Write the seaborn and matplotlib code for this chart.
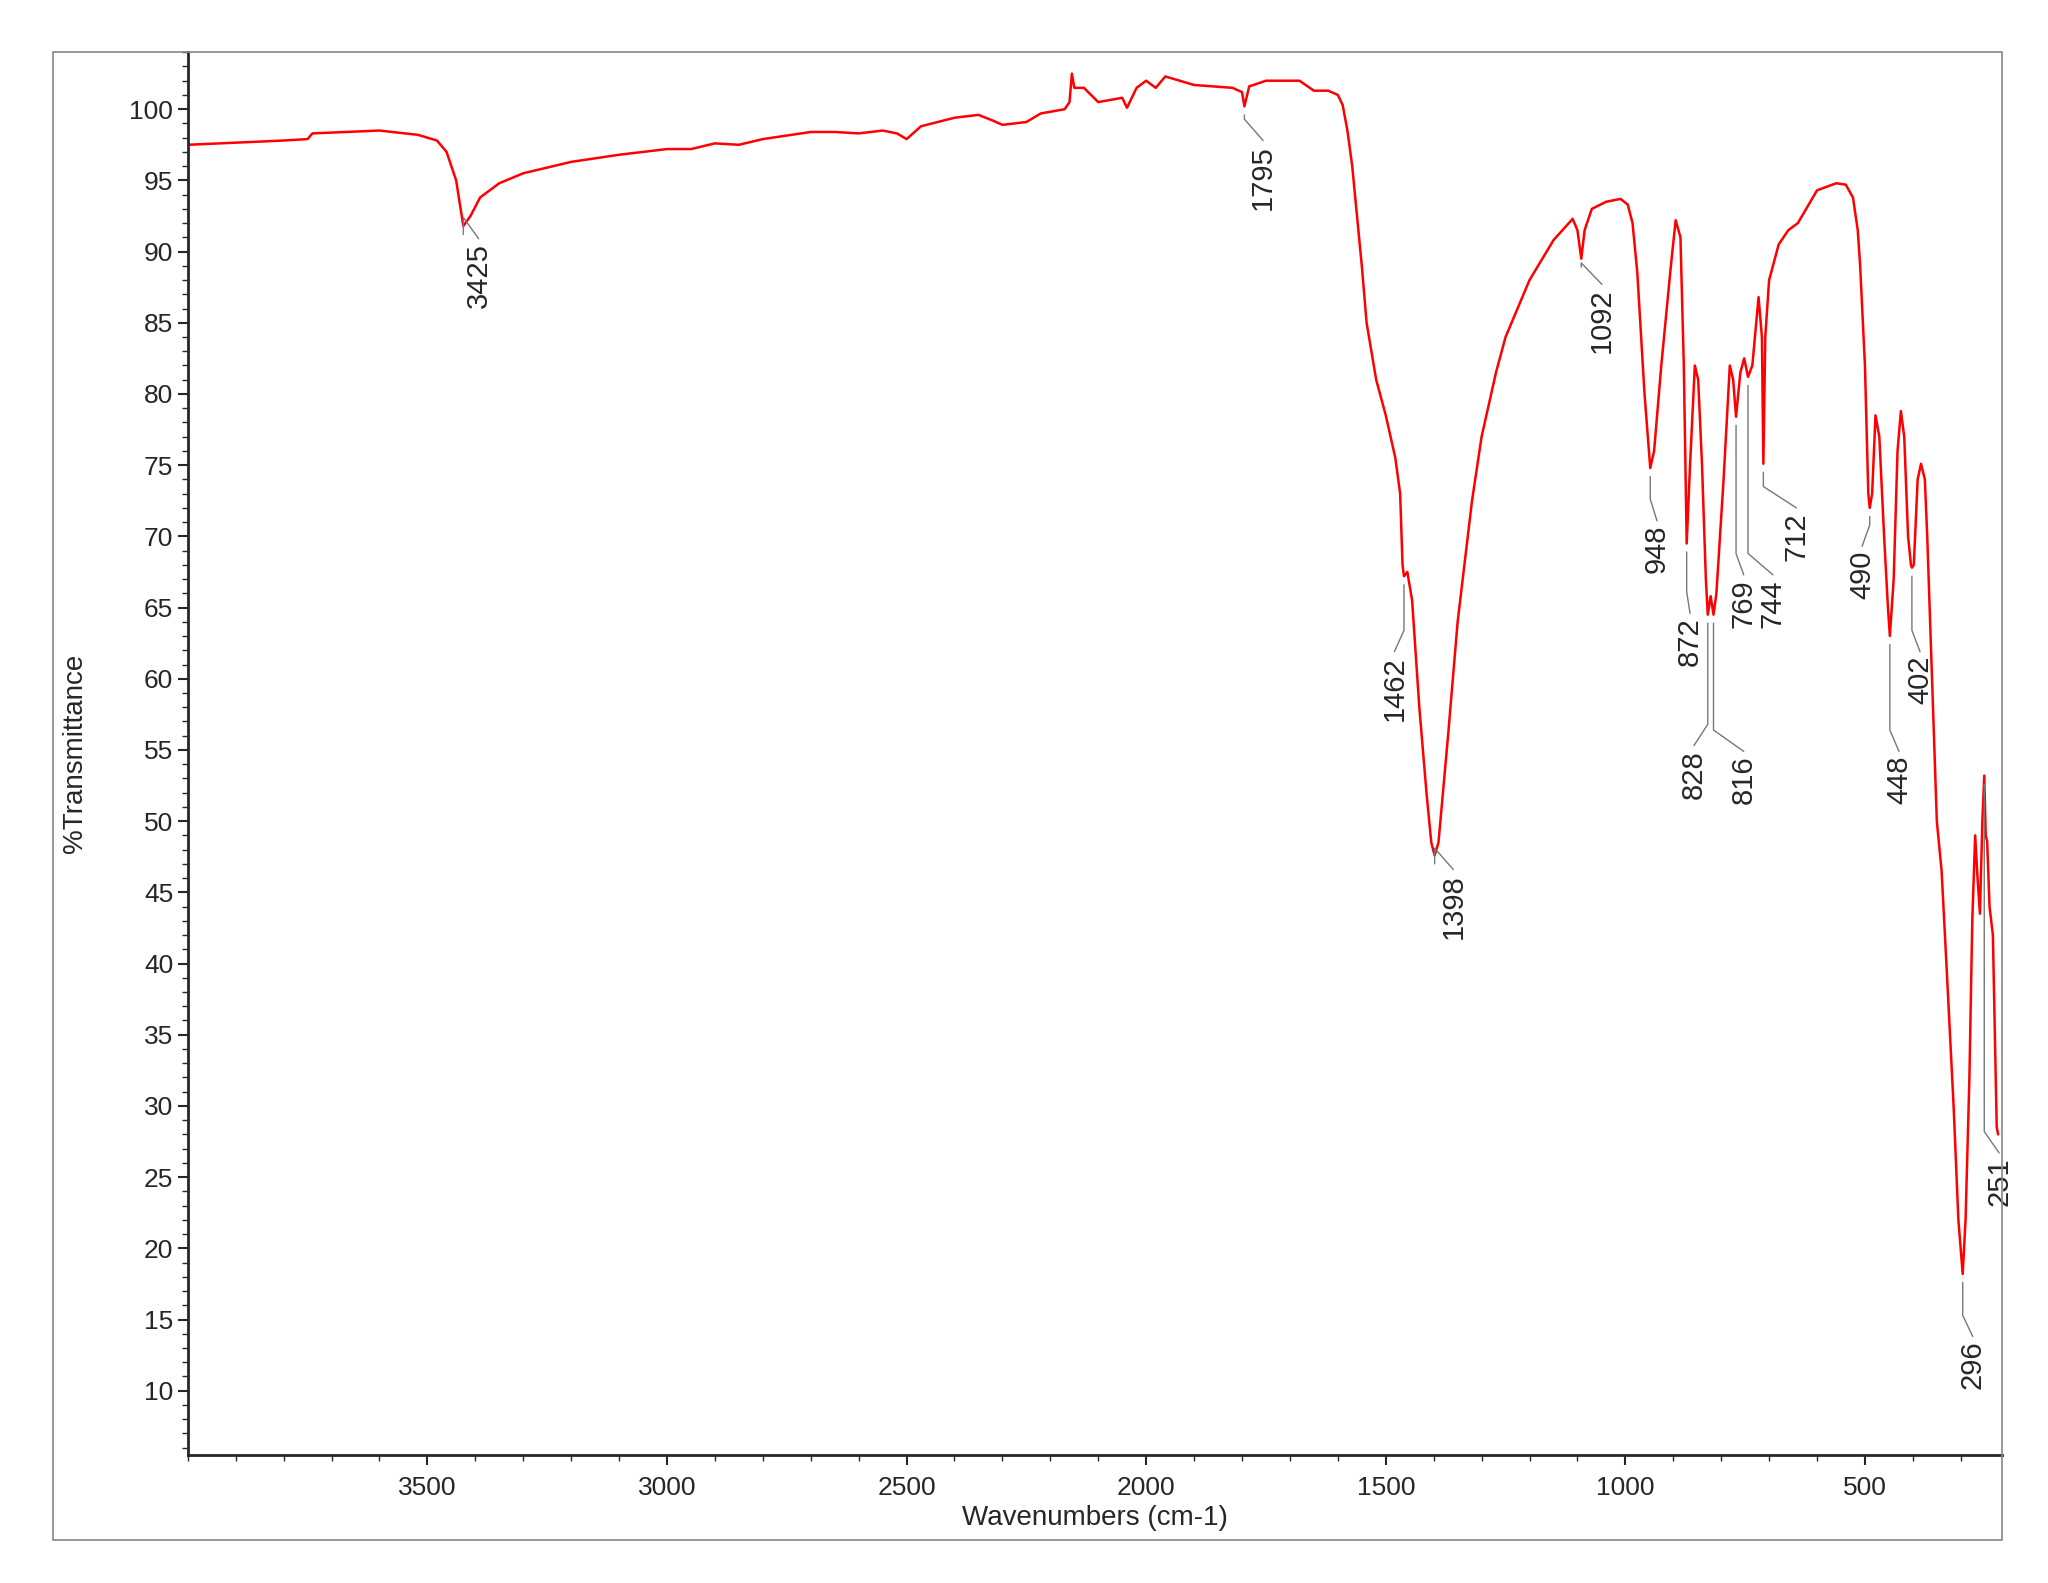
import matplotlib
matplotlib.use("Agg")
import matplotlib.pyplot as plt
import seaborn as sns
import pandas as pd
from matplotlib.patches import Rectangle
from matplotlib.ticker import MultipleLocator

sns.set_style("ticks")
plt.rcParams['font.family'] = ['Liberation Sans', 'DejaVu Sans']

wavenumber = [4000,3800,3750,3740,3600,3520,3480,3460,3440,3425,3410,3390,3350,3300,3200,3100,3000,2950,2900,2850,2800,2700,2650,2600,2550,2520,2500,2470,2400,2350,2320,2300,2250,2220,2170,2160,2155,2150,2130,2100,2050,2040,2020,2000,1980,1960,1900,1820,1800,1795,1785,1750,1680,1650,1620,1600,1590,1580,1570,1560,1550,1540,1520,1500,1480,1470,1465,1462,1455,1445,1430,1415,1405,1398,1390,1370,1350,1320,1300,1270,1250,1200,1150,1110,1100,1092,1085,1070,1040,1010,995,985,975,960,948,940,925,905,895,885,878,872,865,855,848,840,832,828,822,816,810,795,782,775,769,760,752,744,735,722,715,712,708,700,680,660,640,600,560,540,525,515,510,500,493,490,485,478,470,460,452,448,440,432,425,418,410,404,402,398,390,383,375,370,360,350,340,330,315,305,296,290,282,276,270,265,260,255,251,248,245,240,233,225,222]
transmittance = [97.5,97.8,97.9,98.3,98.5,98.2,97.8,97.0,95.0,91.8,92.5,93.8,94.8,95.5,96.3,96.8,97.2,97.2,97.6,97.5,97.9,98.4,98.4,98.3,98.5,98.3,97.9,98.8,99.4,99.6,99.2,98.9,99.1,99.7,100.0,100.5,102.5,101.5,101.5,100.5,100.8,100.1,101.5,102.0,101.5,102.3,101.7,101.5,101.2,100.2,101.6,102.0,102.0,101.3,101.3,101.0,100.3,98.5,96.0,92.5,89.0,85.0,81.0,78.5,75.5,73.0,68.0,67.2,67.5,65.5,58.0,52.0,48.5,47.6,48.5,56.0,64.0,72.5,77.0,81.5,84.0,88.0,90.8,92.3,91.5,89.5,91.5,93.0,93.5,93.7,93.3,92.0,88.5,80.0,74.8,76.0,82.0,89.0,92.2,91.0,82.0,69.5,75.0,82.0,81.0,75.0,67.0,64.5,65.8,64.5,66.0,74.0,82.0,81.0,78.4,81.5,82.5,81.2,82.0,86.8,84.0,75.1,84.0,88.0,90.5,91.5,92.0,94.3,94.8,94.7,93.8,91.5,89.0,82.0,73.0,72.0,73.0,78.5,77.0,70.0,65.0,63.0,67.0,76.0,78.8,77.0,70.0,68.0,67.8,68.0,74.0,75.1,74.0,70.0,60.0,50.0,46.5,40.0,30.0,22.0,18.2,22.0,32.0,43.0,49.0,46.0,43.5,50.0,53.2,49.0,48.6,44.0,42.0,28.5,28.0]

peak_labels = ["3425","1795","1092","948","872","769","744","712","490","402","1462","1398","828","816","448","296","251"]
peak_x = [3425,1795,1092,948,872,769,744,712,490,402,1462,1398,828,816,448,296,251]
peak_y = [91.8,100.2,89.5,74.8,69.5,78.4,81.2,75.1,72.0,67.8,67.2,47.6,64.5,64.5,63.0,18.2,53.2]
label_x = [3393,1756,1049,934,865,753,692,643,506,385,1482,1359,857,753,429,275,220]
label_y = [90.6,97.5,87.4,70.8,64.3,67.0,67.0,71.7,69.0,61.6,61.6,46.3,55.0,54.6,54.6,13.5,26.4]

df = pd.DataFrame({"wn": wavenumber, "T": transmittance})

fig = plt.figure(figsize=(20.48, 15.83), dpi=100)
fig.patches.append(Rectangle((0.026, 0.027), 0.9516, 0.940, transform=fig.transFigure,
                             fill=False, edgecolor='#888888', linewidth=1.2))
ax = fig.add_axes([0.0917, 0.081, 0.8856, 0.886])
sns.lineplot(data=df, x="wn", y="T", ax=ax, color='red', linewidth=1.8, sort=False, estimator=None)

for lab, px, py, lx, ly in zip(peak_labels, peak_x, peak_y, label_x, label_y):
    mid = ly + 1.8
    ax.plot([px, px, lx], [py - 0.6, mid, ly + 0.3], color='#777777', linewidth=1.0)
    ax.text(lx, ly, lab, rotation=90, ha='center', va='top', fontsize=21)

ax.set_xlim(4000, 215)
ax.set_ylim(5.5, 104)
ax.set_xticks([3500, 3000, 2500, 2000, 1500, 1000, 500])
ax.xaxis.set_minor_locator(MultipleLocator(100))
ax.set_yticks(range(10, 101, 5))
ax.yaxis.set_minor_locator(MultipleLocator(1))
ax.tick_params(axis='both', which='major', labelsize=19, length=7, width=1.5)
ax.tick_params(axis='x', which='major', pad=8)
ax.tick_params(axis='both', which='minor', length=4, width=1)
ax.set_xlabel("Wavenumbers (cm-1)", fontsize=20, labelpad=4)
ax.set_ylabel("%Transmittance", fontsize=20, labelpad=30)
for s in ['top', 'right']:
    ax.spines[s].set_visible(False)
ax.spines['left'].set_linewidth(2)
ax.spines['bottom'].set_linewidth(2)
fig.savefig("out.png", dpi=100)
